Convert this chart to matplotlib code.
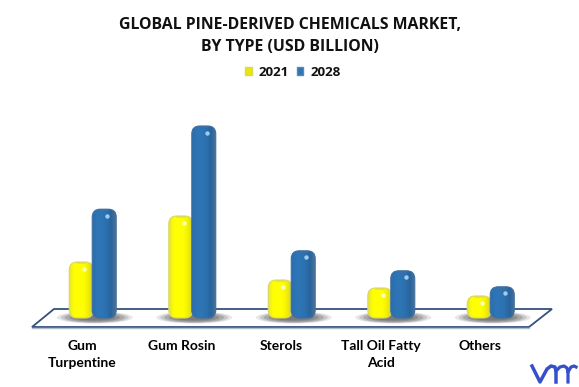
import numpy as np
import matplotlib
matplotlib.use("Agg")
import matplotlib.pyplot as plt
from matplotlib.patches import FancyBboxPatch, Polygon, Ellipse, Patch
from matplotlib.colors import LinearSegmentedColormap

categories = ["Gum\nTurpentine", "Gum Rosin", "Sterols", "Tall Oil Fatty\nAcid", "Others"]
series_names = ["2021", "2028"]
values_2021 = [1.40, 2.55, 0.95, 0.75, 0.55]
values_2028 = [2.72, 4.80, 1.68, 1.18, 0.78]
title = "GLOBAL PINE-DERIVED CHEMICALS MARKET,\nBY TYPE (USD BILLION)"

W, H = 579, 387
plt.rcParams["font.family"] = ["Open Sans", "DejaVu Sans"]
fig = plt.figure(figsize=(W / 100, H / 100), dpi=100, facecolor="white")

# decoration layer in pixel coordinates
bg = fig.add_axes([0, 0, 1, 1], zorder=0)
bg.set_xlim(0, W); bg.set_ylim(H, 0); bg.axis("off")
bg.add_patch(Polygon([[54, 309], [552, 309], [529, 327], [32, 327]], closed=True,
                     fc="white", ec="#34507f", lw=1.3))
bg.plot([32, 529], [328, 328], color="#b5bdca", lw=1)

# chart layer
px_per_unit = 40
base_px, left_px, right_px, top_px = 318, 43, 540.5, 78
ax = fig.add_axes([left_px / W, 1 - base_px / H, (right_px - left_px) / W, (base_px - top_px) / H], zorder=1)
ax.patch.set_alpha(0)
ylim = (base_px - top_px) / px_per_unit
x_per_px = 5 / (right_px - left_px)
y_per_px = 1 / px_per_unit
aspect = y_per_px / x_per_px

cmap_y = LinearSegmentedColormap.from_list("y", ["#e4e23a", "#ffff00", "#ffff00", "#ffff00", "#f2f000", "#d0cf45"])
cmap_b = LinearSegmentedColormap.from_list("b", ["#2a6dab", "#2e75b6", "#2e75b6", "#2c70ae", "#27649e", "#4f7296"])
grad = np.linspace(0, 1, 64).reshape(1, -1)
bar_w = 24 * x_per_px
offs = [-11.5 * x_per_px, 11.5 * x_per_px]


def draw_shadow(x):
    for w, h, a in [(76, 12, 0.14), (68, 11, 0.2), (60, 10, 0.25), (50, 8, 0.3), (40, 6, 0.3)]:
        ax.add_patch(Ellipse((x + 2 * x_per_px, 0.5 * y_per_px), w * x_per_px, h * y_per_px,
                             fc="#505050", ec="none", alpha=a, zorder=1, clip_on=False))


def draw_bar(x, v, cmap, edge, hl, z):
    rpx = min(8, v * px_per_unit * 0.4)
    r = rpx * x_per_px
    box = FancyBboxPatch((x - bar_w / 2 + r, rpx * y_per_px), bar_w - 2 * r, v - 2 * rpx * y_per_px,
                         boxstyle=f"round,pad={r},rounding_size={r}", mutation_aspect=aspect,
                         fc="none", ec=edge, lw=0.8, zorder=z + 1, clip_on=False)
    ax.add_patch(box)
    im = ax.imshow(grad, extent=(x - bar_w / 2, x + bar_w / 2, 0, v), aspect="auto", cmap=cmap, zorder=z)
    im.set_clip_path(box)
    ax.plot([x - bar_w / 2 + 8 * x_per_px, x + bar_w / 2 - 8 * x_per_px], [v - 1.2 * y_per_px] * 2,
            color=edge, lw=1.4, alpha=0.7, zorder=z + 2, solid_capstyle="round")
    ax.scatter([x + 3 * x_per_px], [v - 6.5 * y_per_px], s=10, color=hl, alpha=0.8, lw=0, zorder=z + 3)


for i in range(len(categories)):
    draw_shadow(i)
    draw_bar(i + offs[0], values_2021[i], cmap_y, "#d9d760", "#fffff0", 3)
    draw_bar(i + offs[1], values_2028[i], cmap_b, "#3f6f9f", "#bfe3ff", 5)

ax.set_xlim(-0.5, 4.5)
ax.set_ylim(0, ylim)
# the reference centres its labels about 10 px left of each bar pair
ax.set_xticks(np.arange(len(categories)) - 10.5 * x_per_px)
ax.set_xticklabels(categories, fontsize=10, fontweight="bold", color="#000000", linespacing=1.5,
                   family=["Lato", "DejaVu Sans"])
ax.tick_params(axis="x", length=0, pad=15.5)
ax.set_yticks([])
for s in ax.spines.values():
    s.set_visible(False)

fig.text(290 / W, 1 - 36 / H, title, ha="center", va="center", fontsize=11.4, fontweight="bold",
         color="#111111", linespacing=1.45)
fig.legend(handles=[Patch(fc="#e8e800", ec="#d8d860", label=series_names[0]),
                    Patch(fc="#2e75b6", ec="#5b86ad", label=series_names[1])],
           loc="center", bbox_to_anchor=(293 / W, 1 - 72 / H), ncol=2, frameon=False,
           prop={"size": 9.6, "weight": "bold"}, handlelength=0.5, handleheight=0.55,
           handletextpad=0.55, columnspacing=0.55, labelcolor="#111111")

# logo
fg = fig.add_axes([0, 0, 1, 1], zorder=2)
fg.set_xlim(0, W); fg.set_ylim(H, 0); fg.axis("off")
logo = "#3550c8"
fg.plot([532, 540, 547, 551, 555, 556, 556], [366, 382, 369, 366, 367, 371, 382], color=logo, lw=2.5)
fg.plot([556, 560, 564, 567, 568, 568], [371, 367, 366, 368, 372, 382], color=logo, lw=2.3)
fg.plot([568, 571, 574, 576], [372, 367, 366, 367], color=logo, lw=2.3)

fig.savefig("out.png", dpi=100, facecolor="white")
